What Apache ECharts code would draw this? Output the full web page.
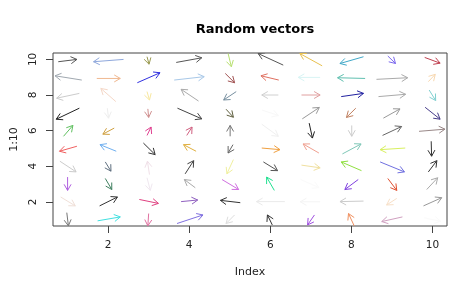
<!DOCTYPE html>
<html>
<head>
<meta charset="utf-8">
<script src="https://cdn.jsdelivr.net/npm/echarts@6/dist/echarts.min.js"></script>
<style>
html,body{margin:0;padding:0;background:#fff;}
#chart{width:474px;height:293px;}
</style>
</head>
<body>
<div id="chart"></div>
<script>
// Arrow tails and heads (data units), rows from y=10 down to y=1, columns x=1..10
const xStart = [
  0.77, 2.38, 2.96, 3.68, 4.96, 6.32, 7.28, 8.30, 8.90, 9.81,
  1.35, 1.72, 2.72, 3.63, 4.89, 6.21, 7.23, 8.34, 8.62, 9.90,
  1.29, 2.19, 2.96, 4.23, 5.16, 6.20, 6.77, 7.75, 8.67, 9.92,
  1.29, 1.98, 2.98, 3.71, 4.91, 5.80, 6.79, 8.11, 8.79, 9.82,
  0.90, 2.15, 2.96, 3.94, 5.01, 5.79, 6.96, 8.01, 8.77, 9.67,
  1.23, 2.20, 2.87, 4.17, 5.08, 5.79, 7.20, 7.78, 9.33, 9.97,
  0.81, 1.93, 3.02, 3.90, 5.09, 5.83, 6.77, 8.25, 8.71, 9.90,
  1.00, 1.93, 2.96, 4.15, 4.81, 6.10, 6.75, 8.17, 8.90, 9.86,
  0.83, 1.79, 2.77, 3.80, 5.26, 6.36, 7.23, 8.30, 9.12, 9.78,
  0.98, 1.74, 3.00, 3.70, 5.12, 6.05, 7.09, 8.07, 9.26, 9.80
];
const yStart = [
  9.87, 10.00, 10.15, 9.83, 10.33, 9.68, 9.64, 10.15, 10.19, 10.11,
  8.84, 8.93, 8.69, 8.84, 9.21, 8.84, 8.99, 8.93, 8.88, 8.75,
  8.09, 7.63, 8.19, 7.66, 8.19, 8.00, 8.00, 7.91, 7.91, 8.28,
  7.26, 7.26, 7.22, 7.26, 7.20, 7.15, 6.66, 7.26, 6.70, 7.31,
  5.68, 6.14, 5.73, 5.73, 5.68, 6.36, 6.42, 6.29, 5.73, 5.96,
  5.12, 4.84, 5.30, 4.84, 5.21, 5.02, 4.74, 4.69, 5.02, 5.40,
  4.28, 4.24, 3.53, 3.57, 4.37, 4.24, 4.06, 3.75, 4.24, 3.68,
  3.39, 3.31, 3.35, 2.79, 3.25, 2.64, 3.25, 3.25, 3.31, 2.69,
  2.27, 1.77, 2.13, 2.01, 1.95, 2.01, 2.00, 2.04, 2.19, 1.77,
  1.39, 0.93, 1.34, 0.78, 1.26, 0.70, 1.26, 0.65, 1.15, 1.10
];
const xEnd = [
  1.23, 1.64, 3.01, 4.31, 5.04, 5.70, 6.73, 7.72, 9.09, 10.19,
  0.69, 2.30, 3.28, 4.37, 5.12, 5.77, 6.69, 7.66, 9.39, 10.07,
  0.73, 1.82, 3.02, 3.80, 4.85, 5.79, 7.23, 8.30, 9.34, 10.08,
  0.72, 2.01, 3.00, 4.31, 5.09, 6.20, 7.21, 7.88, 9.20, 10.19,
  1.13, 1.87, 3.06, 4.07, 5.01, 6.20, 7.04, 8.01, 9.24, 10.31,
  0.80, 1.80, 3.16, 3.86, 4.96, 6.24, 6.81, 8.24, 8.71, 9.98,
  1.21, 2.07, 2.97, 4.11, 4.93, 6.18, 7.23, 7.75, 9.31, 10.11,
  1.00, 2.09, 3.04, 3.88, 5.22, 5.91, 7.20, 7.84, 9.12, 10.13,
  1.19, 2.23, 3.24, 4.21, 4.77, 5.66, 6.74, 7.72, 8.87, 10.23,
  1.02, 2.30, 2.98, 4.34, 4.91, 5.93, 6.92, 7.93, 8.75, 10.20
];
const yEnd = [
  10.00, 9.87, 9.73, 10.09, 9.59, 10.33, 10.33, 9.77, 9.77, 9.79,
  9.08, 8.93, 9.25, 9.03, 8.69, 9.08, 8.99, 8.97, 8.97, 9.16,
  7.82, 8.37, 7.72, 8.32, 7.72, 8.00, 8.00, 8.09, 8.04, 7.69,
  6.64, 6.70, 6.74, 6.66, 6.75, 6.85, 7.30, 6.74, 7.22, 6.64,
  6.29, 5.80, 6.20, 6.20, 6.29, 5.68, 5.58, 5.68, 6.23, 6.08,
  4.84, 5.21, 4.65, 5.21, 4.74, 4.93, 5.25, 5.25, 4.93, 4.56,
  3.68, 3.72, 4.28, 4.31, 3.57, 3.75, 3.91, 4.24, 3.68, 4.31,
  2.64, 2.69, 2.64, 3.25, 2.69, 3.39, 2.80, 2.69, 2.64, 3.35,
  1.77, 2.27, 1.91, 2.10, 2.08, 2.01, 2.00, 2.01, 1.82, 2.23,
  0.65, 1.15, 0.65, 1.26, 0.78, 1.26, 0.70, 1.34, 0.89, 0.90
];
const arrowColors = [
  '#555555','#8fa8dc','#9a9a50','#555555','#b8e070','#555555','#e8c050','#40a8c8','#7b68ee','#c04050',
  '#a0a8b0','#f0b890','#3030e0','#a8c8e8','#a05050','#e07060','#d8f4f4','#60c0b0','#aaaaaa','#f8d8b0',
  '#cccccc','#f5d8c8','#f8e8a0','#aaaaaa','#7890a0','#d0d0d0','#e0a0a0','#2020a0','#aaaaaa','#80d0d0',
  '#222222','#eeeeee','#d09090','#444444','#606040','#f8f8f8','#999999','#c08060','#999999','#483d8b',
  '#60c060','#d0a040','#e04090','#d06080','#777777','#f0f0f0','#222222','#cccccc','#666666','#998888',
  '#f06060','#70b0f0','#333333','#e0b040','#666666','#f0a040','#f0a090','#80c8b8','#d8f060','#333333',
  '#cccccc','#607080','#f0e0e8','#444444','#f0f0a0','#555555','#f0e0a0','#90e040','#7070e0','#333333',
  '#b060e0','#408060','#f0e8f0','#aaaaaa','#d070e0','#20e090','#fafafa','#8040e0','#e05030','#aaaaaa',
  '#f0e0d8','#333333','#e04080','#9060c0','#333333','#eaeaea','#f4f4f4','#cccccc','#f8e0c8','#999999',
  '#777777','#40e0e0','#e070a0','#8070e0','#dddddd','#333333','#a050e0','#f09060','#d0a0c0','#fafafa'
];
const xTicks = [2, 4, 6, 8, 10];
const yTicks = [2, 4, 6, 8, 10];
const xRange = [0.64, 10.36];
const yRange = [0.64, 10.36];

const arrowData = xStart.map((v, i) => [xStart[i], yStart[i], xEnd[i], yEnd[i]]);
const FONT = 'DejaVu Sans';

const chart = echarts.init(document.getElementById('chart'), null, {renderer: 'canvas'});
chart.setOption({
  animation: false,
  backgroundColor: '#ffffff',
  title: {
    text: 'Random vectors',
    left: 250, textAlign: 'center', top: 18,
    textStyle: {fontFamily: FONT, fontSize: 13, fontWeight: 'bold', color: '#000'}
  },
  grid: {left: 53, right: 27, top: 53, bottom: 67, show: true, borderColor: '#444', borderWidth: 1, backgroundColor: 'transparent'},
  xAxis: {
    type: 'value', min: xRange[0], max: xRange[1],
    name: 'Index', nameLocation: 'middle', nameGap: 41,
    nameTextStyle: {fontFamily: FONT, fontSize: 11, color: '#222'},
    splitLine: {show: false},
    axisLine: {show: false},
    axisTick: {show: true, customValues: xTicks, length: 7, lineStyle: {color: '#444'}},
    axisLabel: {customValues: xTicks, margin: 14, fontFamily: FONT, fontSize: 10.5, color: '#222'}
  },
  yAxis: {
    type: 'value', min: yRange[0], max: yRange[1],
    name: '1:10', nameLocation: 'middle', nameGap: 33, nameRotate: 90,
    nameTextStyle: {fontFamily: FONT, fontSize: 11, color: '#222'},
    splitLine: {show: false},
    axisLine: {show: false},
    axisTick: {show: true, customValues: yTicks, length: 7, lineStyle: {color: '#444'}},
    axisLabel: {customValues: yTicks, margin: 14, rotate: 90, fontFamily: FONT, fontSize: 10.5, color: '#222'}
  },
  series: [{
    type: 'custom',
    clip: true,
    data: arrowData,
    renderItem: function (params, api) {
      const p0 = api.coord([api.value(0), api.value(1)]);
      const p1 = api.coord([api.value(2), api.value(3)]);
      const col = arrowColors[params.dataIndex];
      const ang = Math.atan2(p1[1] - p0[1], p1[0] - p0[0]);
      const L = 7, a = Math.PI / 6;
      const h1 = [p1[0] - L * Math.cos(ang - a), p1[1] - L * Math.sin(ang - a)];
      const h2 = [p1[0] - L * Math.cos(ang + a), p1[1] - L * Math.sin(ang + a)];
      return {
        type: 'group',
        children: [
          {type: 'line', shape: {x1: p0[0], y1: p0[1], x2: p1[0], y2: p1[1]}, style: {stroke: col, lineWidth: 1}},
          {type: 'polyline', shape: {points: [h1, p1, h2]}, style: {stroke: col, fill: null, lineWidth: 1}}
        ]
      };
    }
  }]
});
</script>
</body>
</html>
